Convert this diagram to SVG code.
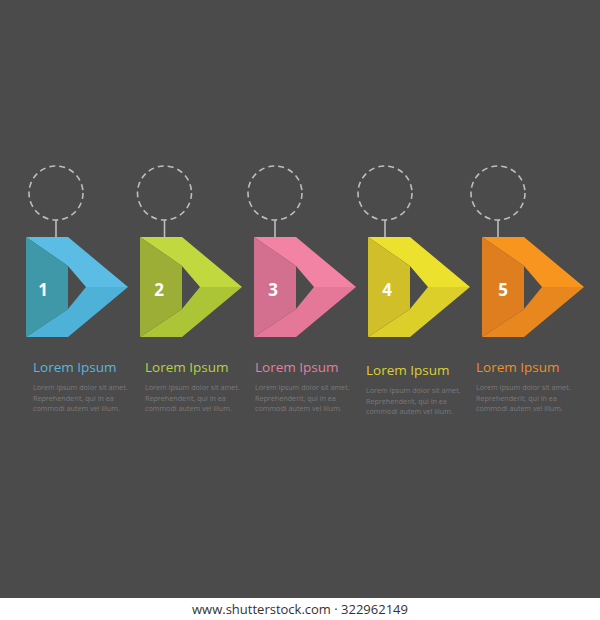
<svg xmlns="http://www.w3.org/2000/svg" width="600" height="620" viewBox="0 0 600 620">
<defs>
<style>
.ring{fill:none;stroke:#bdbdbd;stroke-width:1.6;stroke-dasharray:6 4}
.stem{stroke:#bdbdbd;stroke-width:1.6}
.num{font-family:"Open Sans","Liberation Sans",sans-serif;font-weight:bold;font-size:17px;fill:#ffffff;text-anchor:middle}
.title{font-family:"Open Sans","Liberation Sans",sans-serif;font-size:13.5px}
.body{font-family:"Open Sans","Liberation Sans",sans-serif;font-size:7.2px;fill:#7a7a7a}
.foot{font-family:"Open Sans","Liberation Sans",sans-serif;font-size:13px;fill:#333333;text-anchor:middle}
</style>
<polygon id="tb" points="0,0 42,0 102,50 60,50 42,29"/>
<polygon id="lp" points="0,0 42,29 42,72 0,100"/>
<polygon id="bb" points="0,100 42,72 60,50 102,50 42,100"/>
</defs>
<rect x="0" y="0" width="600" height="620" fill="#4b4b4b"/>
<rect x="0" y="598" width="600" height="22" fill="#ffffff"/>
<g id="connectors">
<line class="stem" x1="56" y1="220" x2="56" y2="237"/>
<line class="stem" x1="164.5" y1="220" x2="164.5" y2="237"/>
<line class="stem" x1="275" y1="220" x2="275" y2="237"/>
<line class="stem" x1="385" y1="220" x2="385" y2="237"/>
<line class="stem" x1="498" y1="220" x2="498" y2="237"/>
</g>
<g id="step1">
<circle class="ring" cx="56" cy="193" r="27"/>
<g transform="translate(26,237)">
<use href="#tb" fill="#5bbde4"/><use href="#bb" fill="#4eb1d8"/><use href="#lp" fill="#3e98a8"/>
</g>
<text class="num" x="43" y="296">1</text>
<text class="title" x="33" y="372" fill="#5bb6dc">Lorem Ipsum</text>
<text class="body" x="33" y="390">Lorem ipsum dolor sit amet.</text>
<text class="body" x="33" y="400.5">Reprehenderit, qui in ea</text>
<text class="body" x="33" y="410.5">commodi autem vel illum.</text>
</g>
<g id="step2">
<circle class="ring" cx="164.5" cy="193" r="27"/>
<g transform="translate(140,237)">
<use href="#tb" fill="#c1d83f"/><use href="#bb" fill="#acc537"/><use href="#lp" fill="#9dae36"/>
</g>
<text class="num" x="159" y="296">2</text>
<text class="title" x="145" y="372" fill="#b8d13e">Lorem Ipsum</text>
<text class="body" x="145" y="390">Lorem ipsum dolor sit amet.</text>
<text class="body" x="145" y="400.5">Reprehenderit, qui in ea</text>
<text class="body" x="145" y="410.5">commodi autem vel illum.</text>
</g>
<g id="step3">
<circle class="ring" cx="275" cy="193" r="27"/>
<g transform="translate(254,237)">
<use href="#tb" fill="#f283a4"/><use href="#bb" fill="#e57899"/><use href="#lp" fill="#d4708f"/>
</g>
<text class="num" x="273" y="296">3</text>
<text class="title" x="255" y="372" fill="#e57fa0">Lorem Ipsum</text>
<text class="body" x="255" y="390">Lorem ipsum dolor sit amet.</text>
<text class="body" x="255" y="400.5">Reprehenderit, qui in ea</text>
<text class="body" x="255" y="410.5">commodi autem vel illum.</text>
</g>
<g id="step4">
<circle class="ring" cx="385" cy="193" r="27"/>
<g transform="translate(368,237)">
<use href="#tb" fill="#ece12d"/><use href="#bb" fill="#dccf2a"/><use href="#lp" fill="#d1bf29"/>
</g>
<text class="num" x="387" y="296">4</text>
<text class="title" x="366" y="375" fill="#dcd12e">Lorem Ipsum</text>
<text class="body" x="366" y="393">Lorem ipsum dolor sit amet.</text>
<text class="body" x="366" y="403.5">Reprehenderit, qui in ea</text>
<text class="body" x="366" y="413.5">commodi autem vel illum.</text>
</g>
<g id="step5">
<circle class="ring" cx="498" cy="193" r="27"/>
<g transform="translate(482,237)">
<use href="#tb" fill="#f7951f"/><use href="#bb" fill="#e9871f"/><use href="#lp" fill="#de7e1f"/>
</g>
<text class="num" x="503" y="296">5</text>
<text class="title" x="476" y="372" fill="#ef8f26">Lorem Ipsum</text>
<text class="body" x="476" y="390">Lorem ipsum dolor sit amet.</text>
<text class="body" x="476" y="400.5">Reprehenderit, qui in ea</text>
<text class="body" x="476" y="410.5">commodi autem vel illum.</text>
</g>
<text class="foot" x="300" y="614">www.shutterstock.com · 322962149</text>
</svg>
